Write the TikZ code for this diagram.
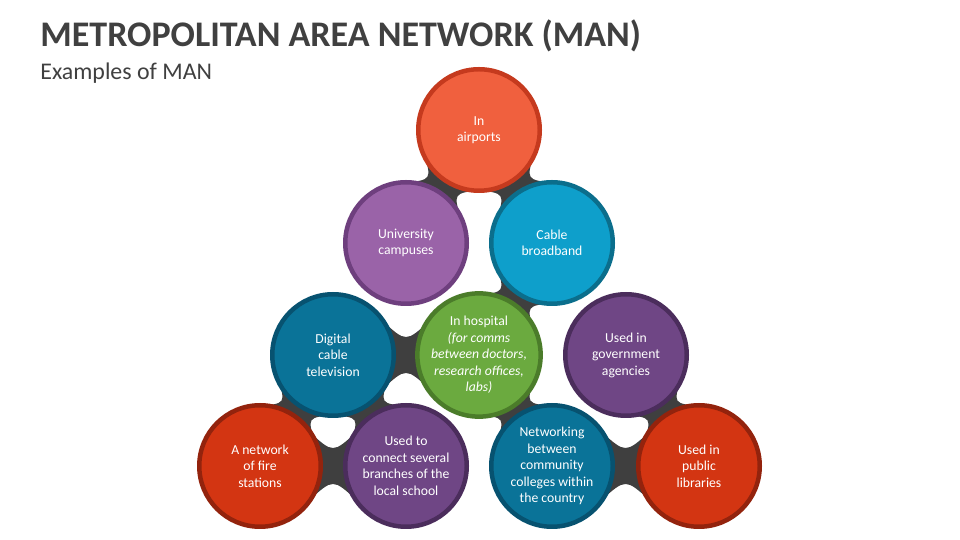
\documentclass[tikz,border=0pt]{standalone}
\usepackage{fontspec}
\setmainfont{Carlito}
\usetikzlibrary{calc,backgrounds}

\definecolor{titlegray}{HTML}{404040}
\definecolor{bridgegray}{HTML}{3F3F3F}
\definecolor{airfill}{HTML}{F0603E}
\definecolor{airline}{HTML}{C53A1E}
\definecolor{unifill}{HTML}{9A63A8}
\definecolor{uniline}{HTML}{6E3F7E}
\definecolor{cablefill}{HTML}{0E9FCB}
\definecolor{cableline}{HTML}{0B6E8C}
\definecolor{tealfill}{HTML}{0A7398}
\definecolor{tealline}{HTML}{075270}
\definecolor{greenfill}{HTML}{6BAA3F}
\definecolor{greenline}{HTML}{4B7C2A}
\definecolor{plumfill}{HTML}{6F4685}
\definecolor{plumline}{HTML}{4B2D5C}
\definecolor{redfill}{HTML}{D33512}
\definecolor{redline}{HTML}{93230D}

\tikzset{
    mancircle/.style n args={2}{circle, minimum size=2.43cm, inner sep=0pt,
        line width=0.09cm, fill=#1, draw=#2, text=white, align=center,
        font={\fontsize{7.8}{9.4}\selectfont}},
    bridge/.style={fill=bridgegray, to path={
        ($(\tikztostart)!1.2cm!35:(\tikztotarget)$)
        .. controls ($(\tikztostart)!0.5!(\tikztotarget)!0.25cm!90:(\tikztotarget)$) ..
        ($(\tikztotarget)!1.2cm!-35:(\tikztostart)$)
        -- ($(\tikztotarget)!1.2cm!35:(\tikztostart)$)
        .. controls ($(\tikztostart)!0.5!(\tikztotarget)!0.25cm!-90:(\tikztotarget)$) ..
        ($(\tikztostart)!1.2cm!-35:(\tikztotarget)$) -- cycle}}
}

\begin{document}
\begin{tikzpicture}
    \useasboundingbox (0,0) rectangle (19.2,10.8);

    \node[anchor=base west, inner sep=0pt, text=titlegray, font={\fontsize{20.5}{25}\selectfont\bfseries}] (title) at (0.8,9.86) {METROPOLITAN AREA NETWORK (MAN)};
    \node[anchor=base west, inner sep=0pt, text=titlegray, font={\fontsize{13.6}{16}\selectfont}] (subtitle) at (0.8,9.2) {Examples of MAN};

    % circles, row by row
    \node[mancircle={airfill}{airline}] (airports) at (9.58,8.2) {In\\airports};

    \node[mancircle={unifill}{uniline}] (campus) at (8.12,5.94) {University\\campuses};
    \node[mancircle={cablefill}{cableline}] (cable) at (11.04,5.94) {Cable\\broadband};

    \node[mancircle={tealfill}{tealline}] (digital) at (6.66,3.7) {Digital\\cable\\television};
    \node[mancircle={greenfill}{greenline}] (hospital) at (9.58,3.7) {In hospital\\\textit{(for comms}\\\textit{between doctors,}\\\textit{research offices,}\\\textit{labs)}};
    \node[mancircle={plumfill}{plumline}] (govt) at (12.52,3.7) {Used in\\government\\agencies};

    \node[mancircle={redfill}{redline}] (fire) at (5.2,1.48) {A network\\of fire\\stations};
    \node[mancircle={plumfill}{plumline}] (school) at (8.12,1.48) {Used to\\connect several\\branches of the\\local school};
    \node[mancircle={tealfill}{tealline}] (college) at (11.04,1.48) {Networking\\between\\community\\colleges within\\the country};
    \node[mancircle={redfill}{redline}] (library) at (13.98,1.48) {Used in\\public\\libraries};

    % dark links behind the circles
    \begin{scope}[on background layer]
        \fill[bridge] (airports) to (campus);
        \fill[bridge] (airports) to (cable);
        \fill[bridge] (cable) to (hospital);
        \fill[bridge] (digital) to (hospital);
        \fill[bridge] (hospital) to (college);
        \fill[bridge] (digital) to (fire);
        \fill[bridge] (digital) to (school);
        \fill[bridge] (fire) to (school);
        \fill[bridge] (govt) to (library);
        \fill[bridge] (college) to (library);
    \end{scope}
\end{tikzpicture}
\end{document}
